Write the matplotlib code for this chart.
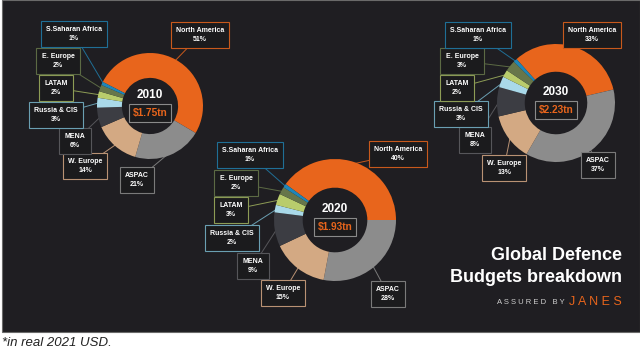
import numpy as np
import matplotlib
matplotlib.use('Agg')
import matplotlib.pyplot as plt
from matplotlib.patches import Rectangle

plt.rcParams['font.family'] = ['Liberation Sans', 'DejaVu Sans']

# data
regions = ['North America', 'ASPAC', 'W. Europe', 'MENA', 'Russia & CIS',
           'LATAM', 'E. Europe', 'S.Saharan Africa']
share_2010 = [51, 21, 14, 6, 3, 2, 2, 1]
share_2020 = [40, 28, 15, 9, 2, 3, 2, 1]
share_2030 = [33, 37, 13, 8, 3, 2, 3, 1]
years = ['2010', '2020', '2030']
totals = ['$1.75tn', '$1.93tn', '$2.23tn']

colors = ['#e8651c', '#8c8c8c', '#d3a983', '#3c3d43', '#a9d9e9',
          '#b9cc6c', '#67764a', '#1f86b8']
border = ['#c8591c', '#7a7a7a', '#b99274', '#56565a', '#6a9fb2',
          '#8d9c55', '#5c6a44', '#1f6f96']

# layout (pixels, y measured from top)
W, H = 640, 352
centers = [(150, 106), (335, 220), (556, 103)]
radii = [53, 61, 59]
starts = [153, 144, 132]
label_pos = [
    [(200, 35), (137, 180), (85, 166), (75, 141), (56, 115), (56, 88), (58, 61), (74, 34)],
    [(398, 154), (388, 294), (283, 293), (253, 266), (232, 238), (231, 210), (236, 183), (250, 155)],
    [(592, 35), (598, 165), (504, 168), (475, 140), (461, 114), (457, 88), (462, 61), (478, 35)],
]

fig = plt.figure(figsize=(6.4, 3.52), dpi=100)
fig.patch.set_facecolor('white')
ax = fig.add_axes([0, 0, 1, 1])

# dark panel
ax.add_patch(Rectangle((1.5, H - 332), W - 1.5, 332, facecolor='#1f1e22',
                       edgecolor='#6a6a6a', linewidth=0.8, zorder=0))

for k, shares in enumerate([share_2010, share_2020, share_2030]):
    cx, cy = centers[k]
    cy = H - cy
    r = radii[k]
    wedges, _ = ax.pie(shares, colors=colors, startangle=starts[k], counterclock=False,
                       center=(cx, cy), radius=r, frame=True,
                       wedgeprops=dict(width=r * 0.47, linewidth=0, zorder=2))
    for i, w in enumerate(wedges):
        mid = np.deg2rad((w.theta1 + w.theta2) / 2)
        px, py = cx + (r - 2) * np.cos(mid), cy + (r - 2) * np.sin(mid)
        lx, ly = label_pos[k][i]
        ly = H - ly
        ax.plot([px, lx], [py, ly], color=border[i], lw=0.7, zorder=1.5)
        ax.text(lx, ly, f'{regions[i]}\n{shares[i]}%', color='white', fontsize=5,
                fontweight='bold', ha='center', va='center', linespacing=1.3, zorder=4,
                bbox=dict(boxstyle='square,pad=0.75', facecolor='#1b1b1d',
                          edgecolor=border[i], linewidth=0.8))
    ax.text(cx, cy + 11, years[k], color='white', fontsize=8.5, fontweight='bold',
            ha='center', va='center', zorder=4)
    ax.text(cx, cy - 7, totals[k], color='#e8651c', fontsize=7.3, fontweight='bold',
            ha='center', va='center', zorder=4,
            bbox=dict(boxstyle='square,pad=0.35', facecolor='#1b1b1d',
                      edgecolor='#8a8a8a', linewidth=0.8))

# title block
ax.text(622, H - 255, 'Global Defence', color='white', fontsize=13, fontweight='bold',
        ha='right', va='center')
ax.text(622, H - 278, 'Budgets breakdown', color='white', fontsize=13, fontweight='bold',
        ha='right', va='center')
ax.text(565, H - 302, 'A S S U R E D   B Y', color='#cfcfcf', fontsize=5.5,
        ha='right', va='center')
ax.text(622, H - 302, 'J A N E S', color='#e8651c', fontsize=9,
        ha='right', va='center')

# footnote
ax.text(2, H - 343, '*in real 2021 USD.', color='#222222', fontsize=9.5,
        fontstyle='italic', ha='left', va='center')

ax.set_xlim(0, W)
ax.set_ylim(0, H)
ax.set_aspect('auto')
ax.axis('off')

fig.savefig('out.png', dpi=100, facecolor='white')
